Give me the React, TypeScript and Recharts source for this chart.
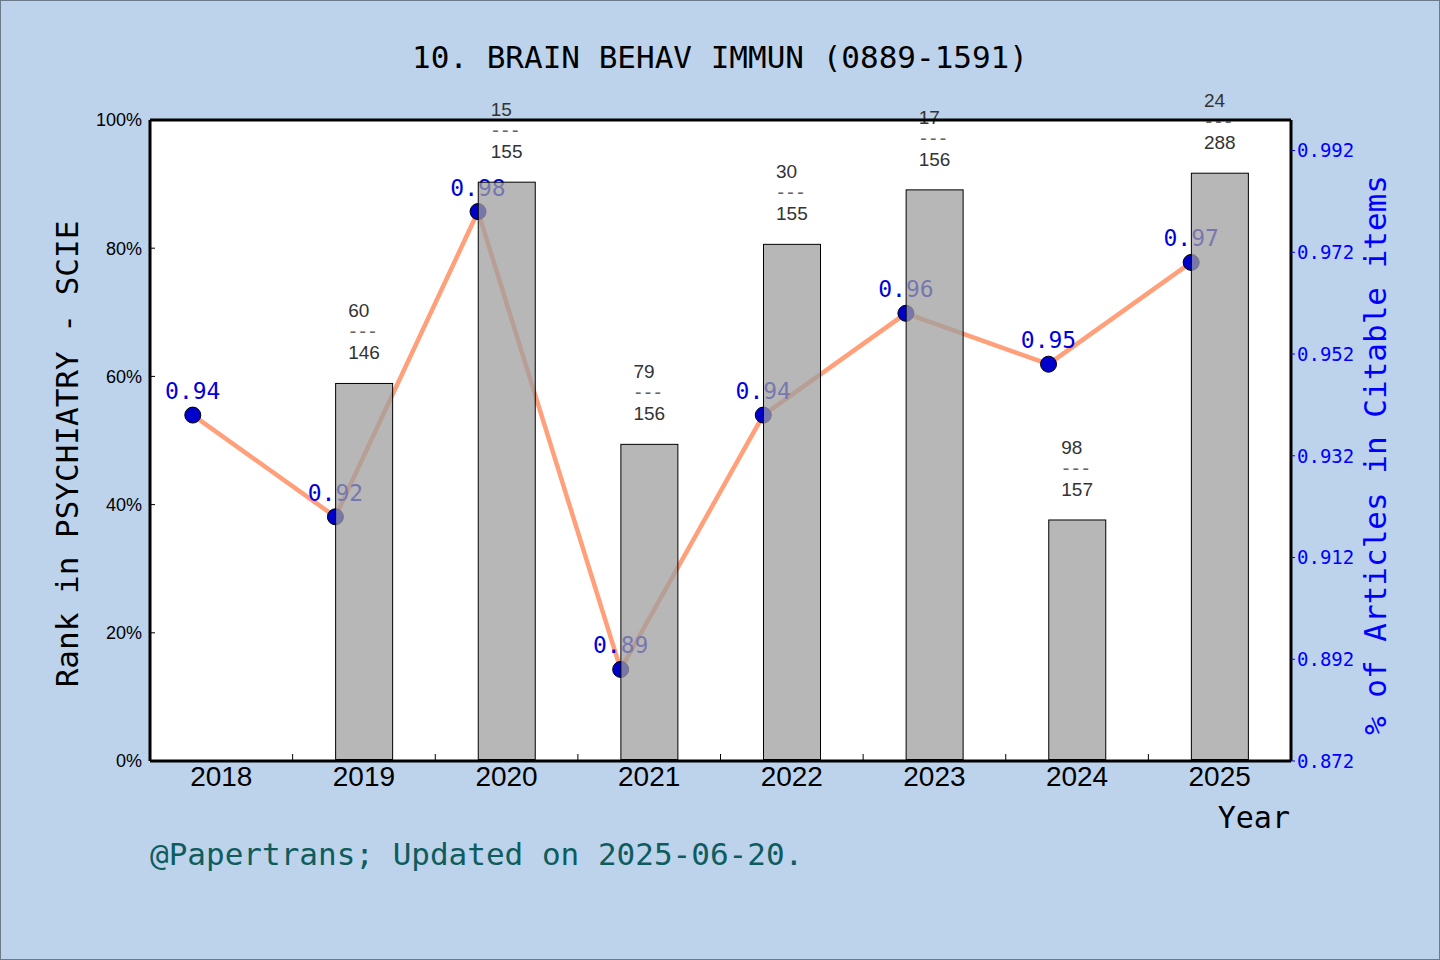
import React from "react";
import { ComposedChart, Bar, Line, XAxis, YAxis, CartesianGrid, ReferenceLine } from "recharts";

const years = [2018, 2019, 2020, 2021, 2022, 2023, 2024, 2025];
// bar height = share of journals ranked below
const rankPct = [null, 58.9, 90.3, 49.4, 80.6, 89.1, 37.6, 91.7];
const rankPos = [null, 60, 15, 79, 30, 17, 98, 24];
const rankTotal = [null, 146, 155, 156, 155, 156, 157, 288];
const citableRatio = [0.94, 0.92, 0.98, 0.89, 0.94, 0.96, 0.95, 0.97];
const rankTicks = [0, 20, 40, 60, 80, 100];
const ratioTicks = [0.872, 0.892, 0.912, 0.932, 0.952, 0.972, 0.992];

const W = 1440;
const H = 960;
const MONO = "'DejaVu Sans Mono', monospace";
const SANS = "'Liberation Sans', Arial, sans-serif";
// line points sit on the left edge of each bar (bar = 0.4 of a category)
const LINE_SHIFT = 0.2;

const data = years.map((year, i) => ({
  year,
  pct: rankPct[i],
  pos: rankPos[i],
  total: rankTotal[i],
  ratio: citableRatio[i],
}));

function RankBar(props: any) {
  const { x, y, width, height, payload } = props;
  if (payload == null || payload.pct == null) return null;
  const left = x + width / 2 - 16;
  return (
    <g>
      <text x={left} y={y - 66} fontSize={19} fontFamily={SANS} fill="#333">
        {payload.pos}
      </text>
      <text x={left - 1} y={y - 45} fontSize={19} fontFamily={MONO} fill="#666" letterSpacing={-1.6}>
        ---
      </text>
      <text x={left} y={y - 24} fontSize={19} fontFamily={SANS} fill="#333">
        {payload.total}
      </text>
      {/* stop just above the 3px spine so the axis stays crisp */}
      <rect
        x={x}
        y={y}
        width={width}
        height={Math.max(0, height - 1.5)}
        fill="#9f9f9f"
        fillOpacity={0.75}
        stroke="#000"
        strokeWidth={1}
      />
    </g>
  );
}

function RatioDot(props: any) {
  const { cx, cy, value } = props;
  if (cx == null || cy == null) return null;
  return (
    <g>
      <text x={cx} y={cy - 16} textAnchor="middle" fontSize={23} fontFamily={MONO} fill="#0000dd">
        {Number(value).toFixed(2)}
      </text>
      <circle cx={cx} cy={cy} r={8} fill="#0000cd" stroke="#000" strokeWidth={1} />
    </g>
  );
}

function RankTick(props: any) {
  const { x, y, payload } = props;
  return (
    <g>
      <line x1={x + 8} y1={y} x2={x + 13} y2={y} stroke="#000" strokeWidth={1} />
      <text x={x} y={y} dy="0.35em" textAnchor="end" fontSize={18} fontFamily={SANS} fill="#000">
        {payload.value}%
      </text>
    </g>
  );
}

function YearTick(props: any) {
  const { x, y, payload, index, visibleTicksCount } = props;
  const half = payload.offset ?? 0;
  const axisY = y - 5;
  const last = index === (visibleTicksCount ?? years.length) - 1;
  return (
    <g>
      {!last && half > 0 && (
        <line x1={x + half} y1={axisY} x2={x + half} y2={axisY - 7} stroke="#000" strokeWidth={1} />
      )}
      <text x={x} y={y} dy="0.72em" textAnchor="middle" fontSize={28} fontFamily={SANS} fill="#000">
        {payload.value}
      </text>
    </g>
  );
}

const textBase: React.CSSProperties = {
  position: "absolute",
  fontFamily: MONO,
  fontSize: 31,
  lineHeight: "31px",
  whiteSpace: "nowrap",
};

export default function App() {
  return (
    <div
      style={{
        position: "absolute",
        left: 0,
        top: 0,
        width: W,
        height: H,
        background: "#bdd3ec",
        overflow: "hidden",
        boxSizing: "border-box",
        border: "1px solid #6a7a8a",
      }}
    >
      <div style={{ position: "absolute", left: -1, top: -1 }}>
        <ComposedChart width={W} height={H} data={data} margin={{ top: 120, right: 0, bottom: 0, left: 0 }}>
          <CartesianGrid xAxisId="cat" yAxisId="rank" horizontal={false} vertical={false} fill="#ffffff" fillOpacity={1} />
          <XAxis
            xAxisId="cat"
            dataKey="year"
            type="category"
            height={199}
            tickSize={0}
            tickMargin={5}
            tickLine={false}
            axisLine={{ stroke: "#000", strokeWidth: 3 }}
            tick={<YearTick />}
            interval={0}
          />
          <XAxis
            xAxisId="line"
            dataKey="year"
            type="number"
            domain={[years[0] - 0.5 + LINE_SHIFT, years[years.length - 1] + 0.5 + LINE_SHIFT]}
            allowDataOverflow
            hide
          />
          <YAxis
            yAxisId="rank"
            orientation="left"
            width={150}
            domain={[0, 100]}
            ticks={rankTicks}
            tickSize={0}
            tickMargin={8}
            tickLine={false}
            axisLine={{ stroke: "#000", strokeWidth: 3 }}
            tick={<RankTick />}
            interval={0}
          />
          <YAxis
            yAxisId="ratio"
            orientation="right"
            width={149}
            domain={[0.872, 0.998]}
            ticks={ratioTicks}
            allowDataOverflow
            tickSize={4}
            tickMargin={2}
            tickLine={{ stroke: "#0000ff", strokeWidth: 1 }}
            axisLine={{ stroke: "#000", strokeWidth: 3 }}
            tick={{ fill: "#0000ff", fontSize: 19, fontFamily: MONO }}
            tickFormatter={(v: number) => v.toFixed(3)}
            interval={0}
          />
          <Line
            xAxisId="line"
            yAxisId="ratio"
            dataKey="ratio"
            type="linear"
            stroke="#ffa07a"
            strokeWidth={4.5}
            dot={<RatioDot />}
            activeDot={false}
            isAnimationActive={false}
            zIndex={200}
          />
          <Bar
            xAxisId="cat"
            yAxisId="rank"
            dataKey="pct"
            barSize={57}
            shape={<RankBar />}
            isAnimationActive={false}
            zIndex={1900}
          />
          <ReferenceLine xAxisId="cat" yAxisId="rank" y={100} stroke="#000" strokeWidth={3} zIndex={1950} />
        </ComposedChart>
      </div>
      <div style={{ ...textBase, left: 0, width: W - 2, top: 41, textAlign: "center", color: "#000" }}>
        10. BRAIN BEHAV IMMUN (0889-1591)
      </div>
      <div
        style={{
          ...textBase,
          left: 66,
          top: 453,
          color: "#000",
          transform: "translate(-50%, -50%) rotate(-90deg)",
        }}
      >
        Rank in PSYCHIATRY - SCIE
      </div>
      <div
        style={{
          ...textBase,
          left: 1374,
          top: 454,
          color: "#0000ff",
          transform: "translate(-50%, -50%) rotate(-90deg)",
        }}
      >
        % of Articles in Citable items
      </div>
      <div style={{ ...textBase, right: W - 1291, top: 801, color: "#000", fontSize: 30 }}>Year</div>
      <div style={{ ...textBase, left: 149, top: 838, color: "#0e5c5c" }}>@Papertrans; Updated on 2025-06-20.</div>
    </div>
  );
}
